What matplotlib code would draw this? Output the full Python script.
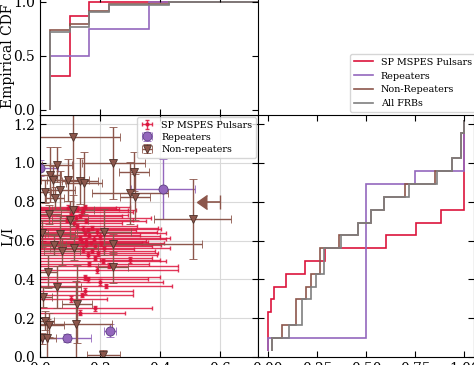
import numpy as np
import matplotlib
matplotlib.use("Agg")
import matplotlib.pyplot as plt
from matplotlib.lines import Line2D

plt.rcParams['font.family'] = ['DejaVu Serif']

RED = 'crimson'
PURPLE = '#9467bd'
BROWN = '#8c564b'
GRAY = '#7f7f7f'

# SP MSPES pulsars: x, L/I, x error, L/I error
psr_x = [0.095, 0.110, 0.125, 0.140, 0.150, 0.105, 0.120, 0.135, 0.155, 0.115, 0.090, 0.145,
         0.125, 0.145, 0.160, 0.175, 0.190, 0.150, 0.165, 0.200, 0.135, 0.180, 0.155,
         0.140, 0.170, 0.205, 0.155, 0.185, 0.215, 0.145, 0.175, 0.195, 0.160,
         0.300, 0.185, 0.210, 0.165, 0.190, 0.230,
         0.150, 0.160, 0.200, 0.220, 0.150, 0.140, 0.105, 0.133, 0.185]
psr_y = [0.770, 0.755, 0.765, 0.745, 0.775, 0.730, 0.715, 0.725, 0.700, 0.690, 0.705, 0.760,
         0.675, 0.660, 0.655, 0.665, 0.645, 0.640, 0.630, 0.625, 0.615, 0.610, 0.600,
         0.595, 0.590, 0.585, 0.575, 0.570, 0.560, 0.555, 0.545, 0.535, 0.525,
         0.500, 0.510, 0.495, 0.480, 0.450, 0.470,
         0.410, 0.400, 0.385, 0.365, 0.340, 0.320, 0.300, 0.228, 0.250]
psr_xerr = [0.16, 0.21, 0.14, 0.17, 0.15, 0.19, 0.25, 0.14, 0.20, 0.16, 0.22, 0.15,
            0.20, 0.26, 0.16, 0.22, 0.20, 0.27, 0.17, 0.20, 0.30, 0.24, 0.20,
            0.22, 0.17, 0.21, 0.25, 0.19, 0.22, 0.17, 0.21, 0.20, 0.23,
            0.10, 0.19, 0.21, 0.20, 0.27, 0.23,
            0.25, 0.20, 0.21, 0.22, 0.16, 0.17, 0.12, 0.15, 0.19]
psr_yerr = [0.015, 0.010, 0.012, 0.015, 0.010, 0.012, 0.015, 0.010, 0.012, 0.015, 0.010, 0.012,
            0.012, 0.015, 0.010, 0.012, 0.015, 0.010, 0.012, 0.015, 0.010, 0.012, 0.015,
            0.012, 0.010, 0.015, 0.012, 0.010, 0.012, 0.015, 0.010, 0.012, 0.015,
            0.015, 0.012, 0.010, 0.012, 0.015, 0.012,
            0.015, 0.012, 0.015, 0.012, 0.015, 0.012, 0.015, 0.012, 0.015]

# repeaters
rep_x = [0.000, 0.411, 0.089, 0.233]
rep_y = [0.973, 0.864, 0.096, 0.136]
rep_xerr = [0.06, 0.106, 0.08, 0.02]
rep_yerr = [0.04, 0.155, 0.02, 0.035]

# non-repeaters
nr_x = [0.111, 0.244, 0.313, 0.300, 0.317, 0.056, 0.035, 0.042, 0.067, 0.050, 0.017, 0.094,
        0.133, 0.148, 0.031, 0.109, 0.100, 0.006, 0.067, 0.213, 0.047, 0.072, 0.113, 0.244,
        0.244, 0.028, 0.058, 0.009, 0.124, 0.017, 0.031, 0.120, 0.006, 0.022, 0.211, 0.509]
nr_y = [1.135, 1.000, 0.955, 0.845, 0.825, 0.990, 0.940, 0.912, 0.860, 0.818, 0.852, 0.912,
        0.907, 0.898, 0.735, 0.755, 0.706, 0.638, 0.636, 0.644, 0.577, 0.545, 0.560, 0.582,
        0.462, 0.440, 0.360, 0.310, 0.273, 0.187, 0.165, 0.170, 0.096, 0.096, 0.008, 0.710]
nr_xerr = [0.155, 0.105, 0.05, 0.128, 0.05, 0.05, 0.035, 0.04, 0.05, 0.03, 0.02, 0.07,
           0.06, 0.06, 0.04, 0.07, 0.06, 0.02, 0.05, 0.09, 0.04, 0.06, 0.08, 0.295,
           0.05, 0.03, 0.08, 0.03, 0.05, 0.03, 0.05, 0.12, 0.02, 0.03, 0.055, 0.128]
nr_yerr = [0.45, 0.185, 0.10, 0.16, 0.12, 0.09, 0.14, 0.07, 0.10, 0.06, 0.06, 0.11,
           0.12, 0.16, 0.05, 0.08, 0.10, 0.07, 0.09, 0.12, 0.05, 0.07, 0.06, 0.05,
           0.08, 0.085, 0.11, 0.05, 0.20, 0.05, 0.06, 0.22, 0.03, 0.10, 0.03, 0.205]

# non-repeater upper limit in x
lim_x = [0.60]
lim_y = [0.80]
lim_xerr = [0.044]

# CDF bin edges and cumulative fractions
cdf_edges = [0.033, 0.099, 0.165, 0.231, 0.297, 0.363, 0.429, 0.495, 0.561, 0.627,
             0.693, 0.759, 0.825, 0.891, 0.957, 1.023, 1.089, 1.155, 1.221]

top_psr = [0.31, 0.865, 1, 1, 1, 1, 1, 1, 1, 1, 1, 1, 1, 1, 1, 1, 1, 1]
top_rep = [0.5, 0.5, 0.75, 0.75, 0.75, 1, 1, 1, 1, 1, 1, 1, 1, 1, 1, 1, 1, 1]
top_nr = [0.74, 0.79, 0.914, 0.983, 0.983, 0.983, 1, 1, 1, 1, 1, 1, 1, 1, 1, 1, 1, 1]
top_all = [0.72, 0.77, 0.90, 0.967, 0.967, 0.967, 1, 1, 1, 1, 1, 1, 1, 1, 1, 1, 1, 1]

right_psr = [0, 0, 0, 0.017, 0.029, 0.094, 0.187, 0.293, 0.602, 0.757, 0.882, 1, 1, 1, 1, 1, 1, 1]
right_rep = [0, 0.5, 0.5, 0.5, 0.5, 0.5, 0.5, 0.5, 0.5, 0.5, 0.5, 0.5, 0.5, 0.75, 1, 1, 1, 1]
right_nr = [0.022, 0.073, 0.144, 0.144, 0.195, 0.22, 0.266, 0.266, 0.36, 0.458, 0.525, 0.593,
            0.70, 0.853, 0.937, 0.983, 0.983, 1.0]
right_all = [0.022, 0.11, 0.175, 0.175, 0.22, 0.243, 0.285, 0.285, 0.373, 0.458, 0.525, 0.593,
             0.717, 0.86, 0.937, 0.983, 0.983, 1.0]

W, H = 474, 365


def rect(l, t, r, b):
    return [l / W, 1 - b / H, (r - l) / W, (b - t) / H]


fig = plt.figure(figsize=(W / 100, H / 100), dpi=100)
ax = fig.add_axes(rect(40, 115, 258, 357))
ax_top = fig.add_axes(rect(40, -3.7, 258, 115), sharex=ax)
ax_right = fig.add_axes(rect(258, 115, 474, 357), sharey=ax)

# main scatter
ax.grid(True, color='#d9d9d9', lw=0.8)
ax.set_axisbelow(True)
ax.errorbar(psr_x, psr_y, xerr=psr_xerr, yerr=psr_yerr, fmt='o', ms=2, color=RED,
            ecolor=RED, elinewidth=1.0, capsize=1.5, alpha=0.85, label='SP MSPES Pulsars')
ax.errorbar(rep_x, rep_y, xerr=rep_xerr, yerr=rep_yerr, fmt='o', ms=6.5, mfc=PURPLE,
            mec='#5b3f80', mew=0.6, ecolor=PURPLE, elinewidth=1.0, capsize=3, label='Repeaters')
ax.errorbar(nr_x, nr_y, xerr=nr_xerr, yerr=nr_yerr, fmt='v', ms=6, mfc=BROWN,
            mec='#4d3029', mew=0.6, ecolor=BROWN, elinewidth=1.0, capsize=3, label='Non-repeaters')
ax.errorbar(lim_x, lim_y, xerr=lim_xerr, xuplims=True, fmt='none', color=BROWN, ecolor=BROWN,
            elinewidth=1.2, capsize=5)
ax.set_xlim(0, 0.727)
ax.set_ylim(0, 1.247)
ax.set_xticks([0, 0.2, 0.4, 0.6])
ax.set_yticks([0, 0.2, 0.4, 0.6, 0.8, 1.0, 1.2])
ax.set_ylabel('L/I', fontsize=10)
ax.yaxis.set_label_coords(-0.115, 0.5)
ax.legend(loc='upper right', fontsize=6.9, labelspacing=0.32, borderaxespad=0.2,
          framealpha=0.8, edgecolor='#cccccc', handlelength=1.3, handletextpad=0.8)

# top CDF
for vals, c in [(top_psr, RED), (top_rep, PURPLE), (top_nr, BROWN), (top_all, GRAY)]:
    ax_top.stairs(vals, cdf_edges, baseline=0, color=c, lw=1.2)
ax_top.set_ylim(-0.05, 1.05)
ax_top.set_yticks([0, 0.5, 1.0])
ax_top.set_ylabel('Empirical CDF', fontsize=10)
ax_top.yaxis.set_label_coords(-0.115, 0.5)
ax_top.tick_params(labelbottom=False)

# right CDF
for vals, c in [(right_psr, RED), (right_rep, PURPLE), (right_nr, BROWN), (right_all, GRAY)]:
    ax_right.stairs(vals, cdf_edges, orientation='horizontal', baseline=None, color=c, lw=1.2)
ax_right.set_xlim(-0.05, 1.05)
ax_right.set_xticks([0, 0.25, 0.5, 0.75, 1.0])
ax_right.set_xticklabels(['0.00', '0.25', '0.50', '0.75', '1.00'])
ax_right.tick_params(labelleft=False)

for a in (ax, ax_top, ax_right):
    a.tick_params(direction='in', top=True, right=True, labelsize=10, length=4)

handles = [Line2D([], [], color=c, lw=1.2) for c in (RED, PURPLE, BROWN, GRAY)]
labels = ['SP MSPES Pulsars', 'Repeaters', 'Non-Repeaters', 'All FRBs']
fig.legend(handles, labels, loc='lower left', bbox_to_anchor=(350 / W, 1 - 112 / H),
           fontsize=6.9, labelspacing=0.5, borderaxespad=0, edgecolor='#cccccc')

fig.savefig('out.png', dpi=100)
